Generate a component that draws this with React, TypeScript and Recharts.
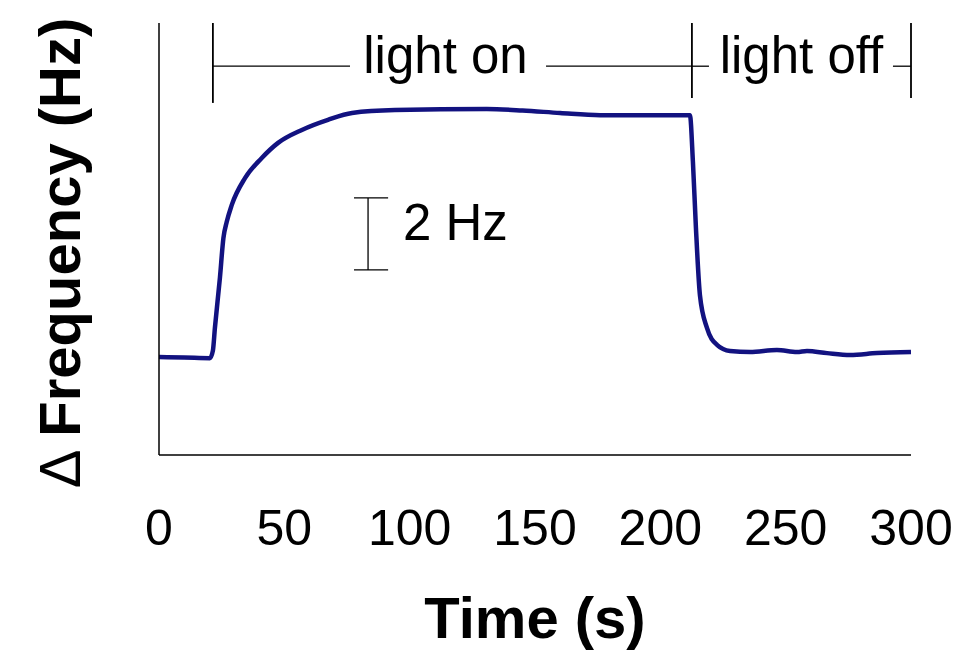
import React from 'react';
import {
  ComposedChart,
  Line,
  XAxis,
  YAxis,
  ReferenceLine,
  ReferenceDot,
  Label,
} from 'recharts';

// time (s) and frequency shift (Hz)
const times = [
  0, 10, 20.3, 21.5, 22.3, 24.3, 25.7, 27.0, 29.0, 34.3, 41.0, 47.5, 57.0, 67.4, 77.0,
  94.1, 130.8, 145, 160, 176, 195, 211.8, 213.0, 214.2, 215.8, 218.6, 222.6, 227.8,
  235.8, 246.5, 254.5, 258.5, 266.5, 275.7, 286.4, 300,
];
const deltaF = [
  2.72, 2.71, 2.69, 2.9, 3.53, 4.92, 6.03, 6.47, 6.94, 7.69, 8.25, 8.67, 9.03, 9.31, 9.5,
  9.58, 9.61, 9.57, 9.5, 9.44, 9.44, 9.44, 8.14, 6.31, 4.44, 3.53, 3.06, 2.89,
  2.86, 2.92, 2.86, 2.89, 2.83, 2.78, 2.83, 2.86,
];
const xTicks = [0, 50, 100, 150, 200, 250, 300];

// light on / light off brackets
const bracketTimes = [21.5, 212.6, 300];
const bracketTop = 12;
const bracketBottoms = [9.78, 9.92, 9.92];
const bracketLevel = 10.8;
const bracketPieces = [
  [21.5, 76.2],
  [154.4, 212.6],
  [212.6, 219.4],
  [292.8, 300],
];
const phaseLabels = ['light on', 'light off'];
const phaseLabelTimes = [114.3, 256.3];
const phaseLabelY = 10.61;

// 2 Hz scale bar
const scaleBarTime = 83.4;
const scaleBarRange = [5.14, 7.14];
const scaleCapRange = [77.8, 91.4];
const scaleLabel = '2 Hz';
const scaleLabelTime = 97.3;
const scaleLabelY = 5.97;

const data = times.map((t, i) => ({ t, df: deltaF[i] }));

const FONT = '"Liberation Sans", Arial, Helvetica, sans-serif';
const NAVY = '#121280';

const XTick = (p: any) => (
  <text
    x={p.x}
    y={p.y + 90}
    textAnchor="middle"
    fontFamily={FONT}
    fontSize={50}
    fill="#000"
  >
    {p.payload.value}
  </text>
);

const YTitle = (p: any) => {
  const vb = p.viewBox;
  const cx = vb.x + 80;
  const cy = vb.y + vb.height / 2 + 14;
  return (
    <text
      x={cx}
      y={cy}
      transform={`rotate(-90, ${cx}, ${cy})`}
      textAnchor="middle"
      fontFamily={FONT}
      fontSize={58}
      fill="#000"
    >
      <tspan fontWeight="normal">Δ </tspan>
      <tspan fontWeight="bold">Frequency (Hz)</tspan>
    </text>
  );
};

const XTitle = (p: any) => {
  const vb = p.viewBox;
  return (
    <text
      x={vb.x + vb.width / 2}
      y={vb.y + 183}
      textAnchor="middle"
      fontFamily={FONT}
      fontSize={58}
      fontWeight="bold"
      fill="#000"
    >
      Time (s)
    </text>
  );
};

const textShape = (text: string, anchor: string) => (p: any) => (
  <text
    x={p.cx}
    y={p.cy}
    textAnchor={anchor}
    fontFamily={FONT}
    fontSize={51}
    fill="#000"
  >
    {text}
  </text>
);

export default function App() {
  return (
    <div style={{ position: 'absolute', left: 0, top: 0, background: '#fff' }}>
      <ComposedChart
        width={955}
        height={670}
        data={data}
        margin={{ top: 23, right: 44, left: 0, bottom: 0 }}
      >
        <XAxis
          dataKey="t"
          type="number"
          domain={[0, 300]}
          ticks={xTicks}
          tickLine={false}
          tickSize={0}
          tickMargin={0}
          tick={<XTick />}
          axisLine={{ stroke: '#000', strokeWidth: 1.5 }}
          height={215}
          interval={0}
        >
          <Label content={<XTitle />} />
        </XAxis>
        <YAxis
          type="number"
          domain={[0, 12]}
          tick={false}
          tickLine={false}
          axisLine={{ stroke: '#000', strokeWidth: 1.5 }}
          width={159}
        >
          <Label content={<YTitle />} />
        </YAxis>

        {bracketTimes.map((t, i) => (
          <ReferenceLine
            key={`bv-${i}`}
            segment={[
              { x: t, y: bracketTop },
              { x: t, y: bracketBottoms[i] },
            ]}
            stroke="#000"
            strokeWidth={1.8}
            ifOverflow="visible"
          />
        ))}
        {bracketPieces.map((p, i) => (
          <ReferenceLine
            key={`bh-${i}`}
            segment={[
              { x: p[0], y: bracketLevel },
              { x: p[1], y: bracketLevel },
            ]}
            stroke="#000"
            strokeWidth={1.3}
            ifOverflow="visible"
          />
        ))}
        {phaseLabels.map((s, i) => (
          <ReferenceDot
            key={`pl-${i}`}
            x={phaseLabelTimes[i]}
            y={phaseLabelY}
            r={1}
            ifOverflow="visible"
            shape={textShape(s, 'middle')}
          />
        ))}

        <ReferenceLine
          segment={[
            { x: scaleBarTime, y: scaleBarRange[0] },
            { x: scaleBarTime, y: scaleBarRange[1] },
          ]}
          stroke="#000"
          strokeWidth={1.3}
        />
        {scaleBarRange.map((v, i) => (
          <ReferenceLine
            key={`cap-${i}`}
            segment={[
              { x: scaleCapRange[0], y: v },
              { x: scaleCapRange[1], y: v },
            ]}
            stroke="#000"
            strokeWidth={1.3}
          />
        ))}
        <ReferenceDot
          x={scaleLabelTime}
          y={scaleLabelY}
          r={1}
          shape={textShape(scaleLabel, 'start')}
        />

        <Line
          dataKey="df"
          type="monotone"
          stroke={NAVY}
          strokeWidth={4.5}
          dot={false}
          activeDot={false}
          isAnimationActive={false}
        />
      </ComposedChart>
    </div>
  );
}
